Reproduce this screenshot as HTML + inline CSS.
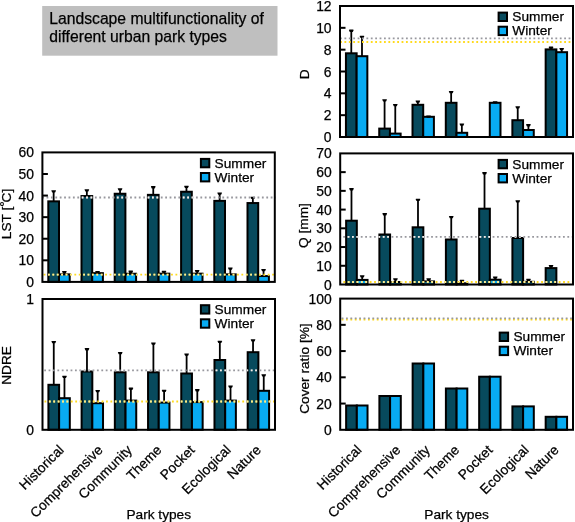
<!DOCTYPE html><html><head><meta charset="utf-8"><style>html,body{margin:0;padding:0;background:#fff;}svg{display:block;will-change:transform;}text{font-family:"Liberation Sans", sans-serif;fill:#000;stroke:#000;stroke-width:0.25px;}</style></head><body>
<svg width="575" height="522" viewBox="0 0 575 522">
<rect x="0" y="0" width="575" height="522" fill="#fff"/>
<rect x="42.2" y="6" width="235.3" height="49.7" fill="#bfbfbf"/>
<text x="49.3" y="24.3" font-size="15.7">Landscape multifunctionality of</text>
<text x="49.3" y="42.2" font-size="15.7">different urban park types</text>
<rect x="345.94" y="53.30" width="10.7" height="83.70" fill="#074a5d" stroke="#000" stroke-width="2.0"/>
<line x1="351.29" y1="30.60" x2="351.29" y2="53.30" stroke="#000" stroke-width="1.8"/>
<path d="M348.89 29.90Q348.89 29.60 349.49 29.60H353.09Q353.69 29.60 353.69 29.90L352.79 31.90H349.79Z" fill="#000"/>
<rect x="356.64" y="56.20" width="10.7" height="80.80" fill="#08abf2" stroke="#000" stroke-width="2.0"/>
<line x1="361.99" y1="36.70" x2="361.99" y2="56.20" stroke="#000" stroke-width="1.8"/>
<path d="M359.59 36.00Q359.59 35.70 360.19 35.70H363.79Q364.39 35.70 364.39 36.00L363.49 38.00H360.49Z" fill="#000"/>
<rect x="379.23" y="128.60" width="10.7" height="8.40" fill="#074a5d" stroke="#000" stroke-width="2.0"/>
<line x1="384.58" y1="100.30" x2="384.58" y2="128.60" stroke="#000" stroke-width="1.8"/>
<path d="M382.18 99.60Q382.18 99.30 382.78 99.30H386.38Q386.98 99.30 386.98 99.60L386.08 101.60H383.08Z" fill="#000"/>
<rect x="389.93" y="133.60" width="10.7" height="3.40" fill="#08abf2" stroke="#000" stroke-width="2.0"/>
<line x1="395.28" y1="104.90" x2="395.28" y2="133.60" stroke="#000" stroke-width="1.8"/>
<path d="M392.88 104.20Q392.88 103.90 393.48 103.90H397.08Q397.68 103.90 397.68 104.20L396.78 106.20H393.78Z" fill="#000"/>
<rect x="412.51" y="104.80" width="10.7" height="32.20" fill="#074a5d" stroke="#000" stroke-width="2.0"/>
<line x1="417.86" y1="101.40" x2="417.86" y2="104.80" stroke="#000" stroke-width="1.8"/>
<path d="M415.46 100.70Q415.46 100.40 416.06 100.40H419.66Q420.26 100.40 420.26 100.70L419.36 102.70H416.36Z" fill="#000"/>
<rect x="423.21" y="116.80" width="10.7" height="20.20" fill="#08abf2" stroke="#000" stroke-width="2.0"/>
<line x1="428.56" y1="116.40" x2="428.56" y2="116.80" stroke="#000" stroke-width="1.8"/>
<path d="M426.16 115.70Q426.16 115.40 426.76 115.40H430.36Q430.96 115.40 430.96 115.70L430.06 117.70H427.06Z" fill="#000"/>
<rect x="445.80" y="102.80" width="10.7" height="34.20" fill="#074a5d" stroke="#000" stroke-width="2.0"/>
<line x1="451.15" y1="91.90" x2="451.15" y2="102.80" stroke="#000" stroke-width="1.8"/>
<path d="M448.75 91.20Q448.75 90.90 449.35 90.90H452.95Q453.55 90.90 453.55 91.20L452.65 93.20H449.65Z" fill="#000"/>
<rect x="456.50" y="132.80" width="10.7" height="4.20" fill="#08abf2" stroke="#000" stroke-width="2.0"/>
<line x1="461.85" y1="124.50" x2="461.85" y2="132.80" stroke="#000" stroke-width="1.8"/>
<path d="M459.45 123.80Q459.45 123.50 460.05 123.50H463.65Q464.25 123.50 464.25 123.80L463.35 125.80H460.35Z" fill="#000"/>
<rect x="489.79" y="102.80" width="10.7" height="34.20" fill="#08abf2" stroke="#000" stroke-width="2.0"/>
<line x1="495.14" y1="102.20" x2="495.14" y2="102.80" stroke="#000" stroke-width="1.8"/>
<path d="M492.74 101.50Q492.74 101.20 493.34 101.20H496.94Q497.54 101.20 497.54 101.50L496.64 103.50H493.64Z" fill="#000"/>
<rect x="512.37" y="120.20" width="10.7" height="16.80" fill="#074a5d" stroke="#000" stroke-width="2.0"/>
<line x1="517.72" y1="107.30" x2="517.72" y2="120.20" stroke="#000" stroke-width="1.8"/>
<path d="M515.32 106.60Q515.32 106.30 515.92 106.30H519.52Q520.12 106.30 520.12 106.60L519.22 108.60H516.22Z" fill="#000"/>
<rect x="523.07" y="130.00" width="10.7" height="7.00" fill="#08abf2" stroke="#000" stroke-width="2.0"/>
<line x1="528.42" y1="125.10" x2="528.42" y2="130.00" stroke="#000" stroke-width="1.8"/>
<path d="M526.02 124.40Q526.02 124.10 526.62 124.10H530.22Q530.82 124.10 530.82 124.40L529.92 126.40H526.92Z" fill="#000"/>
<rect x="545.66" y="49.40" width="10.7" height="87.60" fill="#074a5d" stroke="#000" stroke-width="2.0"/>
<line x1="551.01" y1="47.60" x2="551.01" y2="49.40" stroke="#000" stroke-width="1.8"/>
<path d="M548.61 46.90Q548.61 46.60 549.21 46.60H552.81Q553.41 46.60 553.41 46.90L552.51 48.90H549.51Z" fill="#000"/>
<rect x="556.36" y="52.20" width="10.7" height="84.80" fill="#08abf2" stroke="#000" stroke-width="2.0"/>
<line x1="561.71" y1="48.90" x2="561.71" y2="52.20" stroke="#000" stroke-width="1.8"/>
<path d="M559.31 48.20Q559.31 47.90 559.91 47.90H563.51Q564.11 47.90 564.11 48.20L563.21 50.20H560.21Z" fill="#000"/>
<clipPath id="clipD"><rect x="344.94" y="52.30" width="12.70" height="85.70"/><rect x="355.64" y="55.20" width="12.70" height="82.80"/><rect x="378.23" y="127.60" width="12.70" height="10.40"/><rect x="388.93" y="132.60" width="12.70" height="5.40"/><rect x="411.51" y="103.80" width="12.70" height="34.20"/><rect x="422.21" y="115.80" width="12.70" height="22.20"/><rect x="444.80" y="101.80" width="12.70" height="36.20"/><rect x="455.50" y="131.80" width="12.70" height="6.20"/><rect x="488.79" y="101.80" width="12.70" height="36.20"/><rect x="511.37" y="119.20" width="12.70" height="18.80"/><rect x="522.07" y="129.00" width="12.70" height="9.00"/><rect x="544.66" y="48.40" width="12.70" height="89.60"/><rect x="555.36" y="51.20" width="12.70" height="86.80"/></clipPath>
<line x1="340.0" y1="38.4" x2="573.8" y2="38.4" stroke="#98989e" stroke-width="1.8" stroke-dasharray="1.8 2.595" stroke-dashoffset="4.345"/>
<line x1="340.0" y1="38.4" x2="573.8" y2="38.4" stroke="#f2efec" stroke-width="1.8" stroke-dasharray="1.8 2.595" stroke-dashoffset="4.345" clip-path="url(#clipD)"/>
<line x1="340.0" y1="42.0" x2="573.8" y2="42.0" stroke="#ffda1c" stroke-width="1.8" stroke-dasharray="1.8 2.595" stroke-dashoffset="4.345"/>
<line x1="340.0" y1="42.0" x2="573.8" y2="42.0" stroke="#f6eda0" stroke-width="1.8" stroke-dasharray="1.8 2.595" stroke-dashoffset="4.345" clip-path="url(#clipD)"/>
<rect x="340.0" y="6.0" width="233.00" height="131.00" fill="none" stroke="#000" stroke-width="2"/>
<text x="331.60" y="142.00" font-size="13.9" text-anchor="end">0</text>
<line x1="340.0" y1="115.17" x2="345.50" y2="115.17" stroke="#000" stroke-width="2"/>
<text x="331.60" y="120.17" font-size="13.9" text-anchor="end">2</text>
<line x1="340.0" y1="93.33" x2="345.50" y2="93.33" stroke="#000" stroke-width="2"/>
<text x="331.60" y="98.33" font-size="13.9" text-anchor="end">4</text>
<line x1="340.0" y1="71.50" x2="345.50" y2="71.50" stroke="#000" stroke-width="2"/>
<text x="331.60" y="76.50" font-size="13.9" text-anchor="end">6</text>
<line x1="340.0" y1="49.67" x2="345.50" y2="49.67" stroke="#000" stroke-width="2"/>
<text x="331.60" y="54.67" font-size="13.9" text-anchor="end">8</text>
<line x1="340.0" y1="27.83" x2="345.50" y2="27.83" stroke="#000" stroke-width="2"/>
<text x="331.60" y="32.83" font-size="13.9" text-anchor="end">10</text>
<text x="331.60" y="11.00" font-size="13.9" text-anchor="end">12</text>
<rect x="498.60" y="12.60" width="8.4" height="8.4" fill="#074a5d" stroke="#000" stroke-width="2"/>
<text x="512.30" y="21.20" font-size="13.7">Summer</text>
<rect x="498.60" y="26.70" width="8.4" height="8.4" fill="#08abf2" stroke="#000" stroke-width="2"/>
<text x="512.30" y="35.30" font-size="13.7">Winter</text>
<text transform="translate(308.70,74.20) rotate(-90)" x="0" y="0" font-size="13.7" text-anchor="middle">D</text>
<rect x="48.30" y="201.35" width="10.7" height="80.55" fill="#074a5d" stroke="#000" stroke-width="2.0"/>
<line x1="53.65" y1="191.20" x2="53.65" y2="201.35" stroke="#000" stroke-width="1.8"/>
<path d="M51.25 190.50Q51.25 190.20 51.85 190.20H55.45Q56.05 190.20 56.05 190.50L55.15 192.50H52.15Z" fill="#000"/>
<rect x="59.00" y="274.35" width="10.7" height="7.55" fill="#08abf2" stroke="#000" stroke-width="2.0"/>
<line x1="64.35" y1="272.00" x2="64.35" y2="274.35" stroke="#000" stroke-width="1.8"/>
<path d="M61.95 271.30Q61.95 271.00 62.55 271.00H66.15Q66.75 271.00 66.75 271.30L65.85 273.30H62.85Z" fill="#000"/>
<rect x="81.50" y="196.05" width="10.7" height="85.85" fill="#074a5d" stroke="#000" stroke-width="2.0"/>
<line x1="86.85" y1="190.20" x2="86.85" y2="196.05" stroke="#000" stroke-width="1.8"/>
<path d="M84.45 189.50Q84.45 189.20 85.05 189.20H88.65Q89.25 189.20 89.25 189.50L88.35 191.50H85.35Z" fill="#000"/>
<rect x="92.20" y="273.15" width="10.7" height="8.75" fill="#08abf2" stroke="#000" stroke-width="2.0"/>
<line x1="97.55" y1="272.00" x2="97.55" y2="273.15" stroke="#000" stroke-width="1.8"/>
<path d="M95.15 271.30Q95.15 271.00 95.75 271.00H99.35Q99.95 271.00 99.95 271.30L99.05 273.30H96.05Z" fill="#000"/>
<rect x="114.70" y="193.75" width="10.7" height="88.15" fill="#074a5d" stroke="#000" stroke-width="2.0"/>
<line x1="120.05" y1="189.20" x2="120.05" y2="193.75" stroke="#000" stroke-width="1.8"/>
<path d="M117.65 188.50Q117.65 188.20 118.25 188.20H121.85Q122.45 188.20 122.45 188.50L121.55 190.50H118.55Z" fill="#000"/>
<rect x="125.40" y="273.75" width="10.7" height="8.15" fill="#08abf2" stroke="#000" stroke-width="2.0"/>
<line x1="130.75" y1="271.60" x2="130.75" y2="273.75" stroke="#000" stroke-width="1.8"/>
<path d="M128.35 270.90Q128.35 270.60 128.95 270.60H132.55Q133.15 270.60 133.15 270.90L132.25 272.90H129.25Z" fill="#000"/>
<rect x="147.90" y="194.85" width="10.7" height="87.05" fill="#074a5d" stroke="#000" stroke-width="2.0"/>
<line x1="153.25" y1="187.10" x2="153.25" y2="194.85" stroke="#000" stroke-width="1.8"/>
<path d="M150.85 186.40Q150.85 186.10 151.45 186.10H155.05Q155.65 186.10 155.65 186.40L154.75 188.40H151.75Z" fill="#000"/>
<rect x="158.60" y="273.65" width="10.7" height="8.25" fill="#08abf2" stroke="#000" stroke-width="2.0"/>
<line x1="163.95" y1="271.70" x2="163.95" y2="273.65" stroke="#000" stroke-width="1.8"/>
<path d="M161.55 271.00Q161.55 270.70 162.15 270.70H165.75Q166.35 270.70 166.35 271.00L165.45 273.00H162.45Z" fill="#000"/>
<rect x="181.10" y="191.75" width="10.7" height="90.15" fill="#074a5d" stroke="#000" stroke-width="2.0"/>
<line x1="186.45" y1="186.70" x2="186.45" y2="191.75" stroke="#000" stroke-width="1.8"/>
<path d="M184.05 186.00Q184.05 185.70 184.65 185.70H188.25Q188.85 185.70 188.85 186.00L187.95 188.00H184.95Z" fill="#000"/>
<rect x="191.80" y="273.65" width="10.7" height="8.25" fill="#08abf2" stroke="#000" stroke-width="2.0"/>
<line x1="197.15" y1="271.00" x2="197.15" y2="273.65" stroke="#000" stroke-width="1.8"/>
<path d="M194.75 270.30Q194.75 270.00 195.35 270.00H198.95Q199.55 270.00 199.55 270.30L198.65 272.30H195.65Z" fill="#000"/>
<rect x="214.30" y="200.85" width="10.7" height="81.05" fill="#074a5d" stroke="#000" stroke-width="2.0"/>
<line x1="219.65" y1="193.40" x2="219.65" y2="200.85" stroke="#000" stroke-width="1.8"/>
<path d="M217.25 192.70Q217.25 192.40 217.85 192.40H221.45Q222.05 192.40 222.05 192.70L221.15 194.70H218.15Z" fill="#000"/>
<rect x="225.00" y="274.35" width="10.7" height="7.55" fill="#08abf2" stroke="#000" stroke-width="2.0"/>
<line x1="230.35" y1="268.40" x2="230.35" y2="274.35" stroke="#000" stroke-width="1.8"/>
<path d="M227.95 267.70Q227.95 267.40 228.55 267.40H232.15Q232.75 267.40 232.75 267.70L231.85 269.70H228.85Z" fill="#000"/>
<rect x="247.50" y="203.05" width="10.7" height="78.85" fill="#074a5d" stroke="#000" stroke-width="2.0"/>
<line x1="252.85" y1="197.80" x2="252.85" y2="203.05" stroke="#000" stroke-width="1.8"/>
<path d="M250.45 197.10Q250.45 196.80 251.05 196.80H254.65Q255.25 196.80 255.25 197.10L254.35 199.10H251.35Z" fill="#000"/>
<rect x="258.20" y="276.05" width="10.7" height="5.85" fill="#08abf2" stroke="#000" stroke-width="2.0"/>
<line x1="263.55" y1="269.90" x2="263.55" y2="276.05" stroke="#000" stroke-width="1.8"/>
<path d="M261.15 269.20Q261.15 268.90 261.75 268.90H265.35Q265.95 268.90 265.95 269.20L265.05 271.20H262.05Z" fill="#000"/>
<clipPath id="clipLST"><rect x="47.30" y="200.35" width="12.70" height="82.55"/><rect x="58.00" y="273.35" width="12.70" height="9.55"/><rect x="80.50" y="195.05" width="12.70" height="87.85"/><rect x="91.20" y="272.15" width="12.70" height="10.75"/><rect x="113.70" y="192.75" width="12.70" height="90.15"/><rect x="124.40" y="272.75" width="12.70" height="10.15"/><rect x="146.90" y="193.85" width="12.70" height="89.05"/><rect x="157.60" y="272.65" width="12.70" height="10.25"/><rect x="180.10" y="190.75" width="12.70" height="92.15"/><rect x="190.80" y="272.65" width="12.70" height="10.25"/><rect x="213.30" y="199.85" width="12.70" height="83.05"/><rect x="224.00" y="273.35" width="12.70" height="9.55"/><rect x="246.50" y="202.05" width="12.70" height="80.85"/><rect x="257.20" y="275.05" width="12.70" height="7.85"/></clipPath>
<line x1="42.4" y1="197.5" x2="275.6" y2="197.5" stroke="#98989e" stroke-width="1.8" stroke-dasharray="1.8 2.595" stroke-dashoffset="0.250"/>
<line x1="42.4" y1="197.5" x2="275.6" y2="197.5" stroke="#f2efec" stroke-width="1.8" stroke-dasharray="1.8 2.595" stroke-dashoffset="0.250" clip-path="url(#clipLST)"/>
<line x1="42.4" y1="274.6" x2="275.6" y2="274.6" stroke="#ffda1c" stroke-width="1.8" stroke-dasharray="1.8 2.595" stroke-dashoffset="3.175"/>
<line x1="42.4" y1="274.6" x2="275.6" y2="274.6" stroke="#f6eda0" stroke-width="1.8" stroke-dasharray="1.8 2.595" stroke-dashoffset="3.175" clip-path="url(#clipLST)"/>
<rect x="42.4" y="152.4" width="232.40" height="129.50" fill="none" stroke="#000" stroke-width="2"/>
<text x="34.00" y="286.90" font-size="13.9" text-anchor="end">0</text>
<line x1="42.4" y1="260.32" x2="47.90" y2="260.32" stroke="#000" stroke-width="2"/>
<text x="34.00" y="265.32" font-size="13.9" text-anchor="end">10</text>
<line x1="42.4" y1="238.73" x2="47.90" y2="238.73" stroke="#000" stroke-width="2"/>
<text x="34.00" y="243.73" font-size="13.9" text-anchor="end">20</text>
<line x1="42.4" y1="217.15" x2="47.90" y2="217.15" stroke="#000" stroke-width="2"/>
<text x="34.00" y="222.15" font-size="13.9" text-anchor="end">30</text>
<line x1="42.4" y1="195.57" x2="47.90" y2="195.57" stroke="#000" stroke-width="2"/>
<text x="34.00" y="200.57" font-size="13.9" text-anchor="end">40</text>
<line x1="42.4" y1="173.98" x2="47.90" y2="173.98" stroke="#000" stroke-width="2"/>
<text x="34.00" y="178.98" font-size="13.9" text-anchor="end">50</text>
<text x="34.00" y="157.40" font-size="13.9" text-anchor="end">60</text>
<rect x="200.90" y="158.90" width="8.4" height="8.4" fill="#074a5d" stroke="#000" stroke-width="2"/>
<text x="214.60" y="167.50" font-size="13.7">Summer</text>
<rect x="200.90" y="173.00" width="8.4" height="8.4" fill="#08abf2" stroke="#000" stroke-width="2"/>
<text x="214.60" y="181.60" font-size="13.7">Winter</text>
<text transform="translate(11.20,214.00) rotate(-90)" x="0" y="0" font-size="13.7" text-anchor="middle">LST [<tspan dy="-2.4">°</tspan><tspan dy="2.4" dx="-1.2">C]</tspan></text>
<rect x="346.13" y="220.70" width="10.7" height="63.80" fill="#074a5d" stroke="#000" stroke-width="2.0"/>
<line x1="351.48" y1="189.10" x2="351.48" y2="220.70" stroke="#000" stroke-width="1.8"/>
<path d="M349.08 188.40Q349.08 188.10 349.68 188.10H353.28Q353.88 188.10 353.88 188.40L352.98 190.40H349.98Z" fill="#000"/>
<rect x="356.83" y="279.90" width="10.7" height="4.60" fill="#08abf2" stroke="#000" stroke-width="2.0"/>
<line x1="362.18" y1="276.20" x2="362.18" y2="279.90" stroke="#000" stroke-width="1.8"/>
<path d="M359.78 275.50Q359.78 275.20 360.38 275.20H363.98Q364.58 275.20 364.58 275.50L363.68 277.50H360.68Z" fill="#000"/>
<rect x="379.39" y="234.50" width="10.7" height="50.00" fill="#074a5d" stroke="#000" stroke-width="2.0"/>
<line x1="384.74" y1="214.10" x2="384.74" y2="234.50" stroke="#000" stroke-width="1.8"/>
<path d="M382.34 213.40Q382.34 213.10 382.94 213.10H386.54Q387.14 213.10 387.14 213.40L386.24 215.40H383.24Z" fill="#000"/>
<rect x="390.09" y="282.00" width="10.7" height="2.50" fill="#08abf2" stroke="#000" stroke-width="2.0"/>
<line x1="395.44" y1="279.30" x2="395.44" y2="282.00" stroke="#000" stroke-width="1.8"/>
<path d="M393.04 278.60Q393.04 278.30 393.64 278.30H397.24Q397.84 278.30 397.84 278.60L396.94 280.60H393.94Z" fill="#000"/>
<rect x="412.64" y="227.30" width="10.7" height="57.20" fill="#074a5d" stroke="#000" stroke-width="2.0"/>
<line x1="417.99" y1="199.70" x2="417.99" y2="227.30" stroke="#000" stroke-width="1.8"/>
<path d="M415.59 199.00Q415.59 198.70 416.19 198.70H419.79Q420.39 198.70 420.39 199.00L419.49 201.00H416.49Z" fill="#000"/>
<rect x="423.34" y="281.40" width="10.7" height="3.10" fill="#08abf2" stroke="#000" stroke-width="2.0"/>
<line x1="428.69" y1="279.30" x2="428.69" y2="281.40" stroke="#000" stroke-width="1.8"/>
<path d="M426.29 278.60Q426.29 278.30 426.89 278.30H430.49Q431.09 278.30 431.09 278.60L430.19 280.60H427.19Z" fill="#000"/>
<rect x="445.90" y="239.50" width="10.7" height="45.00" fill="#074a5d" stroke="#000" stroke-width="2.0"/>
<line x1="451.25" y1="217.00" x2="451.25" y2="239.50" stroke="#000" stroke-width="1.8"/>
<path d="M448.85 216.30Q448.85 216.00 449.45 216.00H453.05Q453.65 216.00 453.65 216.30L452.75 218.30H449.75Z" fill="#000"/>
<rect x="456.60" y="283.30" width="10.7" height="1.20" fill="#08abf2" stroke="#000" stroke-width="2.0"/>
<line x1="461.95" y1="280.80" x2="461.95" y2="283.30" stroke="#000" stroke-width="1.8"/>
<path d="M459.55 280.10Q459.55 279.80 460.15 279.80H463.75Q464.35 279.80 464.35 280.10L463.45 282.10H460.45Z" fill="#000"/>
<rect x="479.16" y="208.70" width="10.7" height="75.80" fill="#074a5d" stroke="#000" stroke-width="2.0"/>
<line x1="484.51" y1="173.10" x2="484.51" y2="208.70" stroke="#000" stroke-width="1.8"/>
<path d="M482.11 172.40Q482.11 172.10 482.71 172.10H486.31Q486.91 172.10 486.91 172.40L486.01 174.40H483.01Z" fill="#000"/>
<rect x="489.86" y="279.70" width="10.7" height="4.80" fill="#08abf2" stroke="#000" stroke-width="2.0"/>
<line x1="495.21" y1="277.40" x2="495.21" y2="279.70" stroke="#000" stroke-width="1.8"/>
<path d="M492.81 276.70Q492.81 276.40 493.41 276.40H497.01Q497.61 276.40 497.61 276.70L496.71 278.70H493.71Z" fill="#000"/>
<rect x="512.41" y="238.00" width="10.7" height="46.50" fill="#074a5d" stroke="#000" stroke-width="2.0"/>
<line x1="517.76" y1="201.20" x2="517.76" y2="238.00" stroke="#000" stroke-width="1.8"/>
<path d="M515.36 200.50Q515.36 200.20 515.96 200.20H519.56Q520.16 200.20 520.16 200.50L519.26 202.50H516.26Z" fill="#000"/>
<rect x="523.11" y="281.80" width="10.7" height="2.70" fill="#08abf2" stroke="#000" stroke-width="2.0"/>
<line x1="528.46" y1="279.80" x2="528.46" y2="281.80" stroke="#000" stroke-width="1.8"/>
<path d="M526.06 279.10Q526.06 278.80 526.66 278.80H530.26Q530.86 278.80 530.86 279.10L529.96 281.10H526.96Z" fill="#000"/>
<rect x="545.67" y="268.10" width="10.7" height="16.40" fill="#074a5d" stroke="#000" stroke-width="2.0"/>
<line x1="551.02" y1="266.00" x2="551.02" y2="268.10" stroke="#000" stroke-width="1.8"/>
<path d="M548.62 265.30Q548.62 265.00 549.22 265.00H552.82Q553.42 265.00 553.42 265.30L552.52 267.30H549.52Z" fill="#000"/>
<clipPath id="clipQ"><rect x="345.13" y="219.70" width="12.70" height="65.80"/><rect x="355.83" y="278.90" width="12.70" height="6.60"/><rect x="378.39" y="233.50" width="12.70" height="52.00"/><rect x="389.09" y="281.00" width="12.70" height="4.50"/><rect x="411.64" y="226.30" width="12.70" height="59.20"/><rect x="422.34" y="280.40" width="12.70" height="5.10"/><rect x="444.90" y="238.50" width="12.70" height="47.00"/><rect x="455.60" y="282.30" width="12.70" height="3.20"/><rect x="478.16" y="207.70" width="12.70" height="77.80"/><rect x="488.86" y="278.70" width="12.70" height="6.80"/><rect x="511.41" y="237.00" width="12.70" height="48.50"/><rect x="522.11" y="280.80" width="12.70" height="4.70"/><rect x="544.67" y="267.10" width="12.70" height="18.40"/></clipPath>
<line x1="340.2" y1="236.9" x2="573.8" y2="236.9" stroke="#98989e" stroke-width="1.8" stroke-dasharray="1.8 2.595" stroke-dashoffset="1.385"/>
<line x1="340.2" y1="236.9" x2="573.8" y2="236.9" stroke="#f2efec" stroke-width="1.8" stroke-dasharray="1.8 2.595" stroke-dashoffset="1.385" clip-path="url(#clipQ)"/>
<line x1="340.2" y1="282.0" x2="573.8" y2="282.0" stroke="#ffda1c" stroke-width="1.8" stroke-dasharray="1.8 2.595" stroke-dashoffset="1.245"/>
<line x1="340.2" y1="282.0" x2="573.8" y2="282.0" stroke="#f6eda0" stroke-width="1.8" stroke-dasharray="1.8 2.595" stroke-dashoffset="1.245" clip-path="url(#clipQ)"/>
<rect x="340.2" y="153.4" width="232.80" height="131.10" fill="none" stroke="#000" stroke-width="2"/>
<text x="331.80" y="289.50" font-size="13.9" text-anchor="end">0</text>
<line x1="340.2" y1="265.77" x2="345.70" y2="265.77" stroke="#000" stroke-width="2"/>
<text x="331.80" y="270.77" font-size="13.9" text-anchor="end">10</text>
<line x1="340.2" y1="247.04" x2="345.70" y2="247.04" stroke="#000" stroke-width="2"/>
<text x="331.80" y="252.04" font-size="13.9" text-anchor="end">20</text>
<line x1="340.2" y1="228.31" x2="345.70" y2="228.31" stroke="#000" stroke-width="2"/>
<text x="331.80" y="233.31" font-size="13.9" text-anchor="end">30</text>
<line x1="340.2" y1="209.59" x2="345.70" y2="209.59" stroke="#000" stroke-width="2"/>
<text x="331.80" y="214.59" font-size="13.9" text-anchor="end">40</text>
<line x1="340.2" y1="190.86" x2="345.70" y2="190.86" stroke="#000" stroke-width="2"/>
<text x="331.80" y="195.86" font-size="13.9" text-anchor="end">50</text>
<line x1="340.2" y1="172.13" x2="345.70" y2="172.13" stroke="#000" stroke-width="2"/>
<text x="331.80" y="177.13" font-size="13.9" text-anchor="end">60</text>
<text x="331.80" y="158.40" font-size="13.9" text-anchor="end">70</text>
<rect x="498.60" y="159.90" width="8.4" height="8.4" fill="#074a5d" stroke="#000" stroke-width="2"/>
<text x="512.30" y="168.50" font-size="13.7">Summer</text>
<rect x="498.60" y="174.00" width="8.4" height="8.4" fill="#08abf2" stroke="#000" stroke-width="2"/>
<text x="512.30" y="182.60" font-size="13.7">Winter</text>
<text transform="translate(307.50,225.60) rotate(-90)" x="0" y="0" font-size="13.7" text-anchor="middle">Q [mm]</text>
<rect x="48.41" y="384.80" width="10.7" height="45.00" fill="#074a5d" stroke="#000" stroke-width="2.0"/>
<line x1="53.76" y1="342.00" x2="53.76" y2="384.80" stroke="#000" stroke-width="1.8"/>
<path d="M51.36 341.30Q51.36 341.00 51.96 341.00H55.56Q56.16 341.00 56.16 341.30L55.26 343.30H52.26Z" fill="#000"/>
<rect x="59.11" y="398.20" width="10.7" height="31.60" fill="#08abf2" stroke="#000" stroke-width="2.0"/>
<line x1="64.46" y1="376.70" x2="64.46" y2="398.20" stroke="#000" stroke-width="1.8"/>
<path d="M62.06 376.00Q62.06 375.70 62.66 375.70H66.26Q66.86 375.70 66.86 376.00L65.96 378.00H62.96Z" fill="#000"/>
<rect x="81.62" y="371.50" width="10.7" height="58.30" fill="#074a5d" stroke="#000" stroke-width="2.0"/>
<line x1="86.97" y1="349.10" x2="86.97" y2="371.50" stroke="#000" stroke-width="1.8"/>
<path d="M84.57 348.40Q84.57 348.10 85.17 348.10H88.77Q89.37 348.10 89.37 348.40L88.47 350.40H85.47Z" fill="#000"/>
<rect x="92.32" y="403.20" width="10.7" height="26.60" fill="#08abf2" stroke="#000" stroke-width="2.0"/>
<line x1="97.67" y1="391.00" x2="97.67" y2="403.20" stroke="#000" stroke-width="1.8"/>
<path d="M95.27 390.30Q95.27 390.00 95.87 390.00H99.47Q100.07 390.00 100.07 390.30L99.17 392.30H96.17Z" fill="#000"/>
<rect x="114.84" y="372.30" width="10.7" height="57.50" fill="#074a5d" stroke="#000" stroke-width="2.0"/>
<line x1="120.19" y1="352.90" x2="120.19" y2="372.30" stroke="#000" stroke-width="1.8"/>
<path d="M117.79 352.20Q117.79 351.90 118.39 351.90H121.99Q122.59 351.90 122.59 352.20L121.69 354.20H118.69Z" fill="#000"/>
<rect x="125.54" y="400.60" width="10.7" height="29.20" fill="#08abf2" stroke="#000" stroke-width="2.0"/>
<line x1="130.89" y1="388.60" x2="130.89" y2="400.60" stroke="#000" stroke-width="1.8"/>
<path d="M128.49 387.90Q128.49 387.60 129.09 387.60H132.69Q133.29 387.60 133.29 387.90L132.39 389.90H129.39Z" fill="#000"/>
<rect x="148.05" y="372.30" width="10.7" height="57.50" fill="#074a5d" stroke="#000" stroke-width="2.0"/>
<line x1="153.40" y1="343.40" x2="153.40" y2="372.30" stroke="#000" stroke-width="1.8"/>
<path d="M151.00 342.70Q151.00 342.40 151.60 342.40H155.20Q155.80 342.40 155.80 342.70L154.90 344.70H151.90Z" fill="#000"/>
<rect x="158.75" y="402.60" width="10.7" height="27.20" fill="#08abf2" stroke="#000" stroke-width="2.0"/>
<line x1="164.10" y1="390.70" x2="164.10" y2="402.60" stroke="#000" stroke-width="1.8"/>
<path d="M161.70 390.00Q161.70 389.70 162.30 389.70H165.90Q166.50 389.70 166.50 390.00L165.60 392.00H162.60Z" fill="#000"/>
<rect x="181.26" y="373.50" width="10.7" height="56.30" fill="#074a5d" stroke="#000" stroke-width="2.0"/>
<line x1="186.61" y1="354.40" x2="186.61" y2="373.50" stroke="#000" stroke-width="1.8"/>
<path d="M184.21 353.70Q184.21 353.40 184.81 353.40H188.41Q189.01 353.40 189.01 353.70L188.11 355.70H185.11Z" fill="#000"/>
<rect x="191.96" y="402.10" width="10.7" height="27.70" fill="#08abf2" stroke="#000" stroke-width="2.0"/>
<line x1="197.31" y1="390.10" x2="197.31" y2="402.10" stroke="#000" stroke-width="1.8"/>
<path d="M194.91 389.40Q194.91 389.10 195.51 389.10H199.11Q199.71 389.10 199.71 389.40L198.81 391.40H195.81Z" fill="#000"/>
<rect x="214.48" y="360.00" width="10.7" height="69.80" fill="#074a5d" stroke="#000" stroke-width="2.0"/>
<line x1="219.83" y1="341.70" x2="219.83" y2="360.00" stroke="#000" stroke-width="1.8"/>
<path d="M217.43 341.00Q217.43 340.70 218.03 340.70H221.63Q222.23 340.70 222.23 341.00L221.33 343.00H218.33Z" fill="#000"/>
<rect x="225.18" y="400.60" width="10.7" height="29.20" fill="#08abf2" stroke="#000" stroke-width="2.0"/>
<line x1="230.53" y1="386.50" x2="230.53" y2="400.60" stroke="#000" stroke-width="1.8"/>
<path d="M228.13 385.80Q228.13 385.50 228.73 385.50H232.33Q232.93 385.50 232.93 385.80L232.03 387.80H229.03Z" fill="#000"/>
<rect x="247.69" y="352.20" width="10.7" height="77.60" fill="#074a5d" stroke="#000" stroke-width="2.0"/>
<line x1="253.04" y1="340.20" x2="253.04" y2="352.20" stroke="#000" stroke-width="1.8"/>
<path d="M250.64 339.50Q250.64 339.20 251.24 339.20H254.84Q255.44 339.20 255.44 339.50L254.54 341.50H251.54Z" fill="#000"/>
<rect x="258.39" y="390.80" width="10.7" height="39.00" fill="#08abf2" stroke="#000" stroke-width="2.0"/>
<line x1="263.74" y1="375.20" x2="263.74" y2="390.80" stroke="#000" stroke-width="1.8"/>
<path d="M261.34 374.50Q261.34 374.20 261.94 374.20H265.54Q266.14 374.20 266.14 374.50L265.24 376.50H262.24Z" fill="#000"/>
<clipPath id="clipNDRE"><rect x="47.41" y="383.80" width="12.70" height="47.00"/><rect x="58.11" y="397.20" width="12.70" height="33.60"/><rect x="80.62" y="370.50" width="12.70" height="60.30"/><rect x="91.32" y="402.20" width="12.70" height="28.60"/><rect x="113.84" y="371.30" width="12.70" height="59.50"/><rect x="124.54" y="399.60" width="12.70" height="31.20"/><rect x="147.05" y="371.30" width="12.70" height="59.50"/><rect x="157.75" y="401.60" width="12.70" height="29.20"/><rect x="180.26" y="372.50" width="12.70" height="58.30"/><rect x="190.96" y="401.10" width="12.70" height="29.70"/><rect x="213.48" y="359.00" width="12.70" height="71.80"/><rect x="224.18" y="399.60" width="12.70" height="31.20"/><rect x="246.69" y="351.20" width="12.70" height="79.60"/><rect x="257.39" y="389.80" width="12.70" height="41.00"/></clipPath>
<line x1="42.5" y1="370.3" x2="275.8" y2="370.3" stroke="#98989e" stroke-width="1.8" stroke-dasharray="1.8 2.595" stroke-dashoffset="2.695"/>
<line x1="42.5" y1="370.3" x2="275.8" y2="370.3" stroke="#f2efec" stroke-width="1.8" stroke-dasharray="1.8 2.595" stroke-dashoffset="2.695" clip-path="url(#clipNDRE)"/>
<line x1="42.5" y1="401.5" x2="275.8" y2="401.5" stroke="#ffda1c" stroke-width="1.8" stroke-dasharray="1.8 2.595" stroke-dashoffset="2.395"/>
<line x1="42.5" y1="401.5" x2="275.8" y2="401.5" stroke="#f6eda0" stroke-width="1.8" stroke-dasharray="1.8 2.595" stroke-dashoffset="2.395" clip-path="url(#clipNDRE)"/>
<rect x="42.5" y="299.0" width="232.50" height="130.80" fill="none" stroke="#000" stroke-width="2"/>
<text x="34.10" y="434.80" font-size="13.9" text-anchor="end">0</text>
<text x="34.10" y="304.00" font-size="13.9" text-anchor="end">1</text>
<rect x="200.90" y="305.20" width="8.4" height="8.4" fill="#074a5d" stroke="#000" stroke-width="2"/>
<text x="214.60" y="313.80" font-size="13.7">Summer</text>
<rect x="200.90" y="319.30" width="8.4" height="8.4" fill="#08abf2" stroke="#000" stroke-width="2"/>
<text x="214.60" y="327.90" font-size="13.7">Winter</text>
<text transform="translate(11.00,365.40) rotate(-90)" x="0" y="0" font-size="13.7" text-anchor="middle">NDRE</text>
<rect x="346.13" y="405.50" width="10.7" height="24.30" fill="#074a5d" stroke="#000" stroke-width="2.0"/>
<rect x="356.83" y="405.50" width="10.7" height="24.30" fill="#08abf2" stroke="#000" stroke-width="2.0"/>
<rect x="379.39" y="396.00" width="10.7" height="33.80" fill="#074a5d" stroke="#000" stroke-width="2.0"/>
<rect x="390.09" y="396.00" width="10.7" height="33.80" fill="#08abf2" stroke="#000" stroke-width="2.0"/>
<rect x="412.64" y="363.50" width="10.7" height="66.30" fill="#074a5d" stroke="#000" stroke-width="2.0"/>
<rect x="423.34" y="363.50" width="10.7" height="66.30" fill="#08abf2" stroke="#000" stroke-width="2.0"/>
<rect x="445.90" y="388.50" width="10.7" height="41.30" fill="#074a5d" stroke="#000" stroke-width="2.0"/>
<rect x="456.60" y="388.50" width="10.7" height="41.30" fill="#08abf2" stroke="#000" stroke-width="2.0"/>
<rect x="479.16" y="376.70" width="10.7" height="53.10" fill="#074a5d" stroke="#000" stroke-width="2.0"/>
<rect x="489.86" y="376.70" width="10.7" height="53.10" fill="#08abf2" stroke="#000" stroke-width="2.0"/>
<rect x="512.41" y="406.40" width="10.7" height="23.40" fill="#074a5d" stroke="#000" stroke-width="2.0"/>
<rect x="523.11" y="406.40" width="10.7" height="23.40" fill="#08abf2" stroke="#000" stroke-width="2.0"/>
<rect x="545.67" y="416.80" width="10.7" height="13.00" fill="#074a5d" stroke="#000" stroke-width="2.0"/>
<rect x="556.37" y="416.80" width="10.7" height="13.00" fill="#08abf2" stroke="#000" stroke-width="2.0"/>
<clipPath id="clipCR"><rect x="345.13" y="404.50" width="12.70" height="26.30"/><rect x="355.83" y="404.50" width="12.70" height="26.30"/><rect x="378.39" y="395.00" width="12.70" height="35.80"/><rect x="389.09" y="395.00" width="12.70" height="35.80"/><rect x="411.64" y="362.50" width="12.70" height="68.30"/><rect x="422.34" y="362.50" width="12.70" height="68.30"/><rect x="444.90" y="387.50" width="12.70" height="43.30"/><rect x="455.60" y="387.50" width="12.70" height="43.30"/><rect x="478.16" y="375.70" width="12.70" height="55.10"/><rect x="488.86" y="375.70" width="12.70" height="55.10"/><rect x="511.41" y="405.40" width="12.70" height="25.40"/><rect x="522.11" y="405.40" width="12.70" height="25.40"/><rect x="544.67" y="415.80" width="12.70" height="15.00"/><rect x="555.37" y="415.80" width="12.70" height="15.00"/></clipPath>
<line x1="340.2" y1="319.5" x2="573.8" y2="319.5" stroke="#ffda1c" stroke-width="1.8" stroke-dasharray="1.8 2.595" stroke-dashoffset="2.995"/>
<line x1="340.2" y1="319.5" x2="573.8" y2="319.5" stroke="#f6eda0" stroke-width="1.8" stroke-dasharray="1.8 2.595" stroke-dashoffset="2.995" clip-path="url(#clipCR)"/>
<line x1="340.2" y1="318.4" x2="573.8" y2="318.4" stroke="#98989e" stroke-width="1.8" stroke-dasharray="1.8 2.595" stroke-dashoffset="2.995"/>
<line x1="340.2" y1="318.4" x2="573.8" y2="318.4" stroke="#f2efec" stroke-width="1.8" stroke-dasharray="1.8 2.595" stroke-dashoffset="2.995" clip-path="url(#clipCR)"/>
<rect x="340.2" y="298.6" width="232.80" height="131.20" fill="none" stroke="#000" stroke-width="2"/>
<text x="331.80" y="434.80" font-size="13.9" text-anchor="end">0</text>
<line x1="340.2" y1="403.56" x2="345.70" y2="403.56" stroke="#000" stroke-width="2"/>
<text x="331.80" y="408.56" font-size="13.9" text-anchor="end">20</text>
<line x1="340.2" y1="377.32" x2="345.70" y2="377.32" stroke="#000" stroke-width="2"/>
<text x="331.80" y="382.32" font-size="13.9" text-anchor="end">40</text>
<line x1="340.2" y1="351.08" x2="345.70" y2="351.08" stroke="#000" stroke-width="2"/>
<text x="331.80" y="356.08" font-size="13.9" text-anchor="end">60</text>
<line x1="340.2" y1="324.84" x2="345.70" y2="324.84" stroke="#000" stroke-width="2"/>
<text x="331.80" y="329.84" font-size="13.9" text-anchor="end">80</text>
<text x="331.80" y="303.60" font-size="13.9" text-anchor="end">100</text>
<rect x="499.70" y="332.60" width="8.4" height="8.4" fill="#074a5d" stroke="#000" stroke-width="2"/>
<text x="513.40" y="341.20" font-size="13.7">Summer</text>
<rect x="499.70" y="346.70" width="8.4" height="8.4" fill="#08abf2" stroke="#000" stroke-width="2"/>
<text x="513.40" y="355.30" font-size="13.7">Winter</text>
<text transform="translate(308.90,368.60) rotate(-90)" x="0" y="0" font-size="13.7" text-anchor="middle">Cover ratio [%]</text>
<text transform="translate(64.66,450.80) rotate(-45)" font-size="13.7" text-anchor="end">Historical</text>
<text transform="translate(103.54,450.80) rotate(-45)" font-size="13.7" text-anchor="end">Comprehensive</text>
<text transform="translate(132.95,450.80) rotate(-45)" font-size="13.7" text-anchor="end">Community</text>
<text transform="translate(162.34,450.80) rotate(-45)" font-size="13.7" text-anchor="end">Theme</text>
<text transform="translate(195.46,450.80) rotate(-45)" font-size="13.7" text-anchor="end">Pocket</text>
<text transform="translate(231.60,450.80) rotate(-45)" font-size="13.7" text-anchor="end">Ecological</text>
<text transform="translate(261.77,450.80) rotate(-45)" font-size="13.7" text-anchor="end">Nature</text>
<text x="158.75" y="518.7" font-size="13.7" text-anchor="middle">Park types</text>
<text transform="translate(362.38,450.80) rotate(-45)" font-size="13.7" text-anchor="end">Historical</text>
<text transform="translate(401.30,450.80) rotate(-45)" font-size="13.7" text-anchor="end">Comprehensive</text>
<text transform="translate(430.75,450.80) rotate(-45)" font-size="13.7" text-anchor="end">Community</text>
<text transform="translate(460.19,450.80) rotate(-45)" font-size="13.7" text-anchor="end">Theme</text>
<text transform="translate(493.35,450.80) rotate(-45)" font-size="13.7" text-anchor="end">Pocket</text>
<text transform="translate(529.54,450.80) rotate(-45)" font-size="13.7" text-anchor="end">Ecological</text>
<text transform="translate(559.75,450.80) rotate(-45)" font-size="13.7" text-anchor="end">Nature</text>
<text x="456.60" y="518.7" font-size="13.7" text-anchor="middle">Park types</text>
</svg></body></html>
